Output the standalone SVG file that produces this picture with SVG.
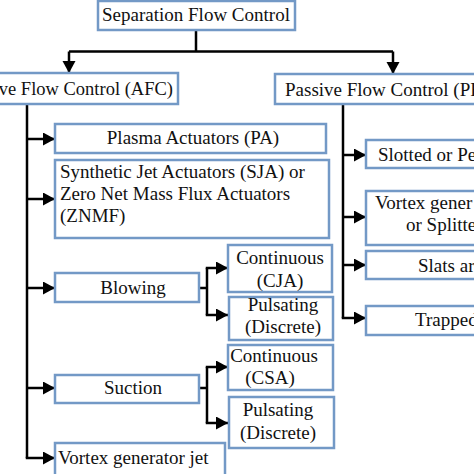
<svg xmlns="http://www.w3.org/2000/svg" width="474" height="474" viewBox="0 0 474 474">
<defs>
<marker id="ah" markerUnits="userSpaceOnUse" markerWidth="14" markerHeight="14" refX="12" refY="6.5" orient="auto">
<path d="M0,0 L12,6.5 L0,13 Z" fill="#000"/>
</marker>
</defs>
<style>
.box{fill:#fff;stroke:#7399c6;stroke-width:2.5}
.t{font-family:'Liberation Serif','Times New Roman','DejaVu Serif',serif;font-size:19px;fill:#111}
.c{text-anchor:middle}
.ln{fill:none;stroke:#000;stroke-width:2.5}
</style>
<rect width="474" height="474" fill="#fff"/>
<g id="connectors">
<path class="ln" d="M196,30 V51.5 M69,51.5 H393"/>
<path class="ln" d="M69,51.5 V73" marker-end="url(#ah)"/>
<path class="ln" d="M393,51.5 V74" marker-end="url(#ah)"/>
<path class="ln" d="M27,104 V458"/>
<path class="ln" d="M27,139 H55" marker-end="url(#ah)"/>
<path class="ln" d="M27,199 H55" marker-end="url(#ah)"/>
<path class="ln" d="M27,288 H55" marker-end="url(#ah)"/>
<path class="ln" d="M27,388 H55" marker-end="url(#ah)"/>
<path class="ln" d="M25.75,458 H55" marker-end="url(#ah)"/>
<path class="ln" d="M199,288 H207 M207,268 V315"/>
<path class="ln" d="M205.75,268 H228" marker-end="url(#ah)"/>
<path class="ln" d="M205.75,315 H228" marker-end="url(#ah)"/>
<path class="ln" d="M199,388 H207 M207,367 V423"/>
<path class="ln" d="M205.75,367 H228" marker-end="url(#ah)"/>
<path class="ln" d="M205.75,423 H228" marker-end="url(#ah)"/>
<path class="ln" d="M343,104 V318"/>
<path class="ln" d="M343,155 H366" marker-end="url(#ah)"/>
<path class="ln" d="M343,217 H366" marker-end="url(#ah)"/>
<path class="ln" d="M343,265 H366" marker-end="url(#ah)"/>
<path class="ln" d="M341.75,318 H366" marker-end="url(#ah)"/>
</g>
<g font-family="Liberation Serif, Times New Roman, serif">
<g id="root"><rect class="box" x="98" y="1" width="197" height="29"/><text class="t c" x="196" y="21">Separation Flow Control</text></g>
<g id="afc"><rect class="box" x="-5" y="73" width="183" height="31"/><text class="t" x="173" y="95" text-anchor="end" style="font-size:18.5px">ve Flow Control (AFC)</text></g>
<g id="pfc"><rect class="box" x="275" y="74" width="210" height="30"/><text class="t" x="285" y="96">Passive Flow Control (PF</text></g>
<g id="pa"><rect class="box" x="55" y="124" width="271" height="29"/><text class="t c" x="193" y="144">Plasma Actuators (PA)</text></g>
<g id="sja"><rect class="box" x="55" y="160" width="274" height="78"/><text class="t" x="60" y="178">Synthetic Jet Actuators (SJA) or</text><text class="t" x="60" y="200">Zero Net Mass Flux Actuators</text><text class="t" x="60" y="222">(ZNMF)</text></g>
<g id="blowing"><rect class="box" x="55" y="273" width="144" height="29"/><text class="t c" x="133" y="294">Blowing</text></g>
<g id="cja"><rect class="box" x="228" y="245" width="104" height="47"/><text class="t c" x="280" y="264">Continuous</text><text class="t c" x="280" y="287">(CJA)</text></g>
<g id="pulse1"><rect class="box" x="229" y="297" width="104" height="43"/><text class="t c" x="283" y="311">Pulsating</text><text class="t c" x="283" y="333">(Discrete)</text></g>
<g id="suction"><rect class="box" x="55" y="375" width="144" height="28"/><text class="t c" x="133" y="394">Suction</text></g>
<g id="csa"><rect class="box" x="228" y="345" width="105" height="45"/><text class="t c" x="274" y="362">Continuous</text><text class="t c" x="270" y="384">(CSA)</text></g>
<g id="pulse2"><rect class="box" x="229" y="397" width="105" height="51"/><text class="t c" x="278" y="416">Pulsating</text><text class="t c" x="278" y="439">(Discrete)</text></g>
<g id="vgj"><rect class="box" x="55" y="443" width="170" height="35"/><text class="t" x="58" y="464">Vortex generator jet</text></g>
<g id="slotted"><rect class="box" x="366" y="140" width="115" height="28"/><text class="t" x="378" y="161">Slotted or Pe</text></g>
<g id="vortex"><rect class="box" x="366" y="191" width="115" height="54"/><text class="t" x="375" y="209">Vortex gener</text><text class="t" x="406" y="231">or Splitte</text></g>
<g id="slats"><rect class="box" x="366" y="251" width="115" height="28"/><text class="t" x="418" y="272">Slats ar</text></g>
<g id="trapped"><rect class="box" x="366" y="306" width="115" height="29"/><text class="t" x="415" y="326">Trapped</text></g>
</g>
</svg>
